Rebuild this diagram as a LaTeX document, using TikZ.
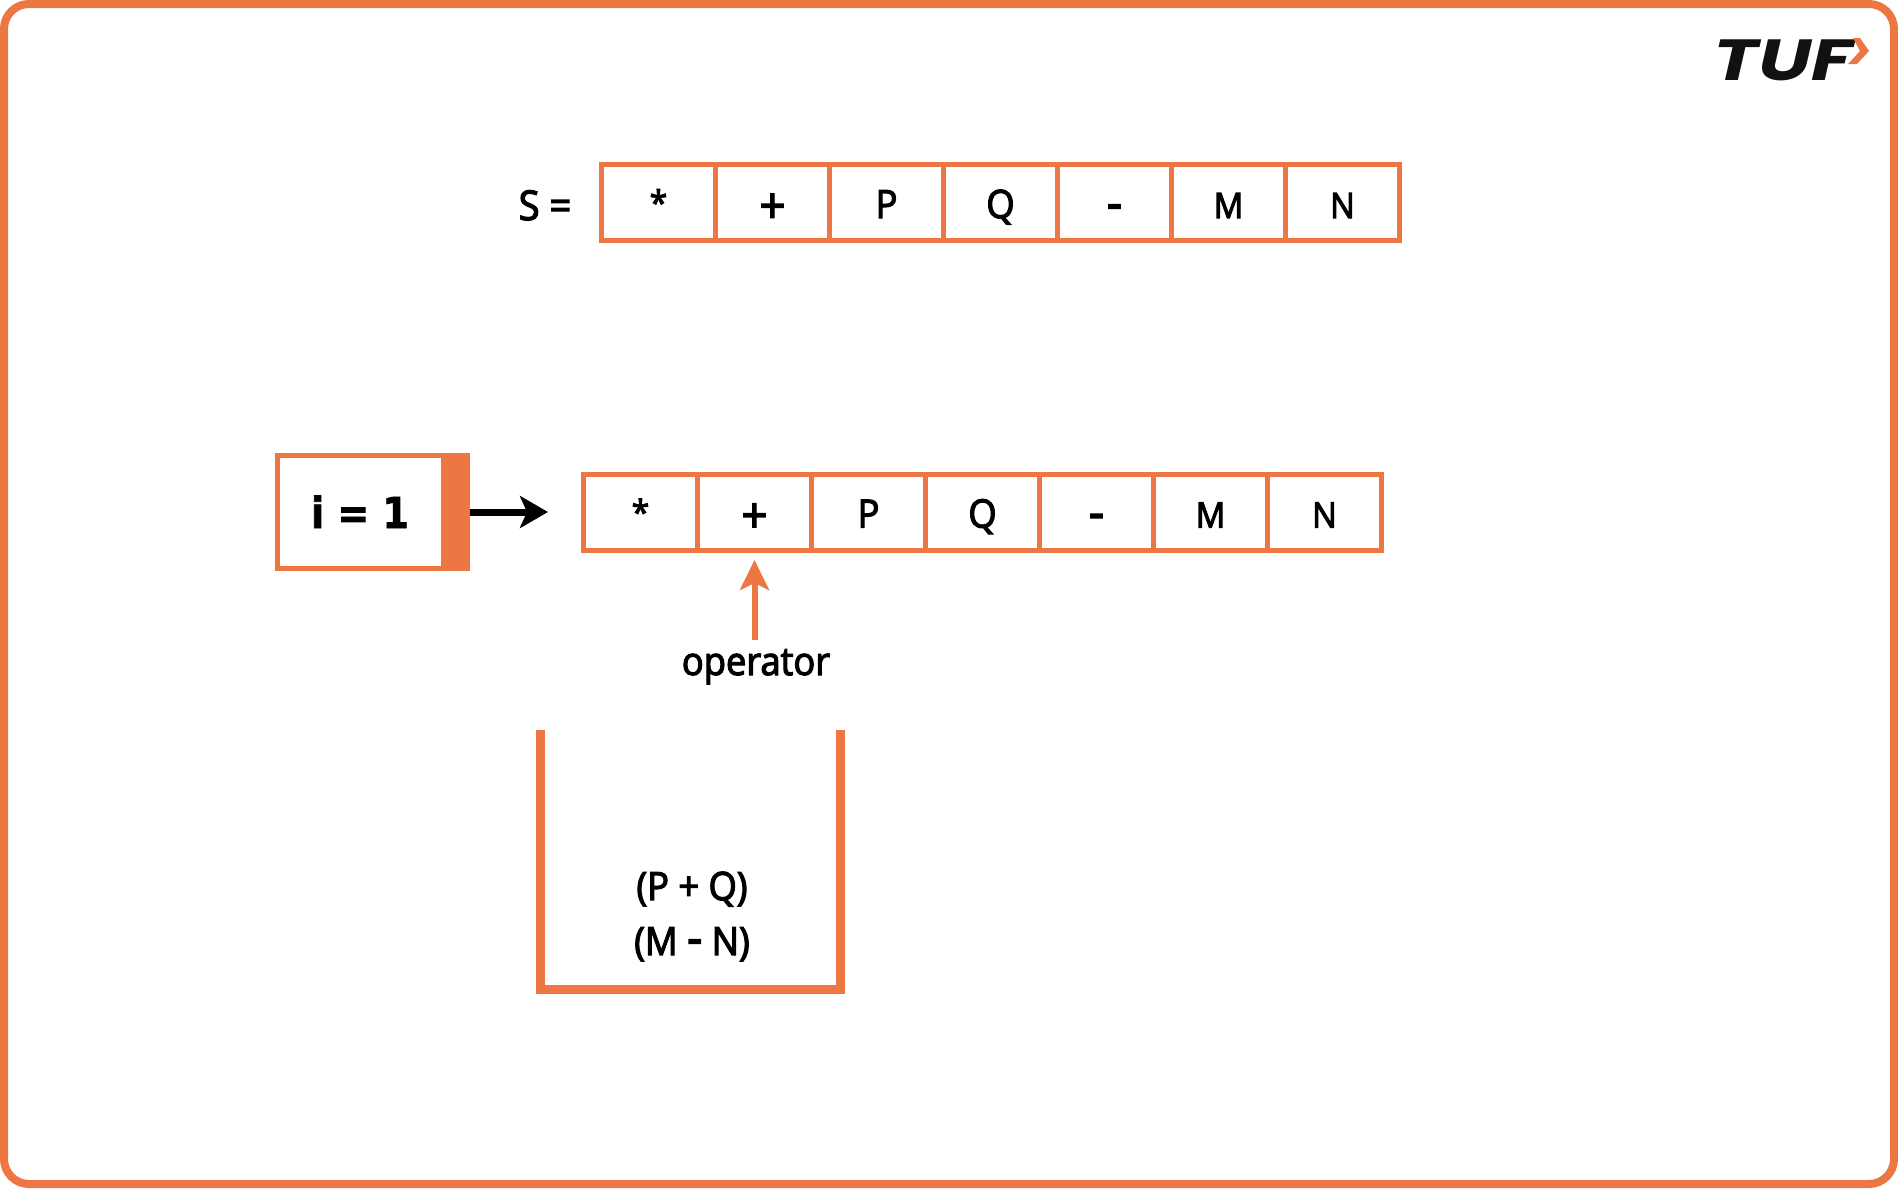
\documentclass[tikz,border=0pt]{standalone}
\usepackage{fontspec}
\setmainfont{Open Sans}[FakeStretch=0.93,FakeBold=3]
\newfontfamily\boldbox{DejaVu Sans Bold}[FakeBold=2]
\newfontfamily\logofont{Poppins}
\usetikzlibrary{arrows.meta}
\definecolor{tuf}{HTML}{EC7742}
\definecolor{ink}{HTML}{111111}
\tikzset{
  cellbox/.style={draw=tuf,line width=5pt,fill=white,minimum width=114pt,minimum height=76pt,inner sep=0pt,text height=31pt,text depth=0pt,font=\fontsize{39}{39}\selectfont,text=black},
  smallglyph/.style={font=\fontsize{35}{35}\selectfont},
  caption/.style={font=\fontsize{39}{44}\selectfont,text=black,inner sep=0pt},
  frame/.style={draw=tuf,line width=8pt,rounded corners=25pt},
  blackarrow/.style={draw=black,line width=7pt,-{Stealth[length=28pt,width=32pt,inset=7pt]}},
  orangearrow/.style={draw=tuf,line width=6pt,-{Stealth[length=30pt,width=29pt,inset=7pt]}},
}
\newcommand{\glyphstar}{\raisebox{3pt}{\fontsize{34}{34}\selectfont *}}
\newcommand{\glyphplus}{\raisebox{-5pt}{\scalebox{1.25}{+}}}
\newcommand{\glyphdash}{\raisebox{-2pt}{\scalebox{1.3}{-}}}
\begin{document}
\begin{tikzpicture}[x=1pt,y=-1pt]
\useasboundingbox (0,0) rectangle (1898,1189);
\draw[frame] (4,4) rectangle (1894,1184);
% logo
\node[anchor=base,inner sep=0pt,text=ink] (logo) at (1783,80) {\scalebox{1.3}[1]{\logofont\fontsize{58}{58}\selectfont\bfseries\itshape TUF}};
\fill[tuf] (1853,38) -- (1860,38) -- (1869,51) -- (1857,64) -- (1848,64) -- (1860,51) -- cycle;
% top row
\node[caption,anchor=base,font=\fontsize{41}{44}\selectfont] (slabel) at (545,220) {S =};
\foreach \n/\t/\s [count=\i from 0] in {a/\glyphstar/,b/\glyphplus/,c/P/,d/Q/,e/\glyphdash/,f/M/smallglyph,g/N/smallglyph}{
  \node[cellbox,\s] (t\n) at (658.5+114*\i,202.5) {\t};
  \node[cellbox,\s] (u\n) at (640.5+114*\i,512) {\t};
}
% pointer box
\node[draw=tuf,line width=5pt,fill=white,minimum width=190pt,minimum height=113pt,inner sep=0pt] (ibox) at (372.5,512) {};
\fill[tuf] (441,453) rectangle (470,571);
\node[anchor=base,inner sep=0pt,font=\boldbox\fontsize{38}{38}\selectfont] (itext) at (360,528) {\scalebox{1}[1.12]{i = 1}};
\coordinate (aend) at (548,512);
\draw[blackarrow] (ibox.east) -- (aend);
% operator
\node[caption,anchor=base] (op) at (756,675) {operator};
\coordinate (opstart) at (754.5,640);
\coordinate (optip) at (754.5,560);
\draw[orangearrow] (opstart) -- (optip);
% stack
\draw[draw=tuf,line width=9pt] (540.5,730) -- (540.5,989.5) -- (840.5,989.5) -- (840.5,730);
\node[caption,anchor=base] (s1) at (692,900) {(P + Q)};
\node[caption,anchor=base] (s2) at (692,955) {(M \scalebox{1.3}{-} N)};
\end{tikzpicture}
\end{document}
